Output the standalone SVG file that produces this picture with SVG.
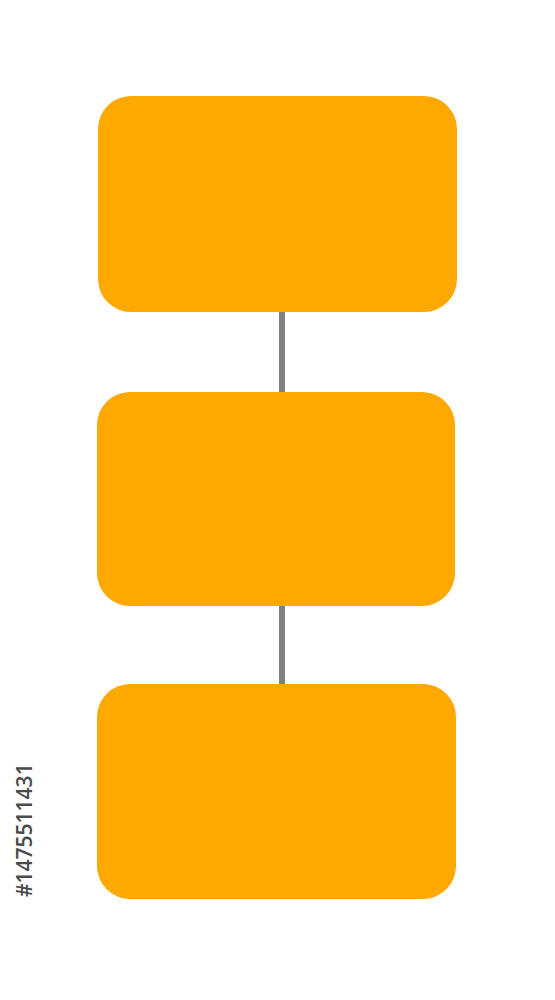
<svg xmlns="http://www.w3.org/2000/svg" width="555" height="1000" viewBox="0 0 555 1000">
<style>
.node{fill:#FFA800;}
.conn{stroke:#7F7F7F;stroke-width:6;fill:none;}
.id{font-family:"Open Sans","DejaVu Sans",sans-serif;font-size:21px;font-weight:600;fill:#4a4a4a;}
</style>
<rect width="555" height="1000" fill="#ffffff"/>
<g id="connectors">
<line class="conn" x1="282" y1="310" x2="282" y2="394"/>
<line class="conn" x1="282" y1="604" x2="282" y2="686"/>
</g>
<g id="node1"><rect class="node" x="98" y="96" width="359" height="216" rx="33" ry="33"/></g>
<g id="node2"><rect class="node" x="97" y="392" width="358" height="214" rx="33" ry="33"/></g>
<g id="node3"><rect class="node" x="97" y="684" width="359" height="215" rx="33" ry="33"/></g>
<text class="id" x="32" y="897" transform="rotate(-90 32 897)">#1475511431</text>
</svg>
